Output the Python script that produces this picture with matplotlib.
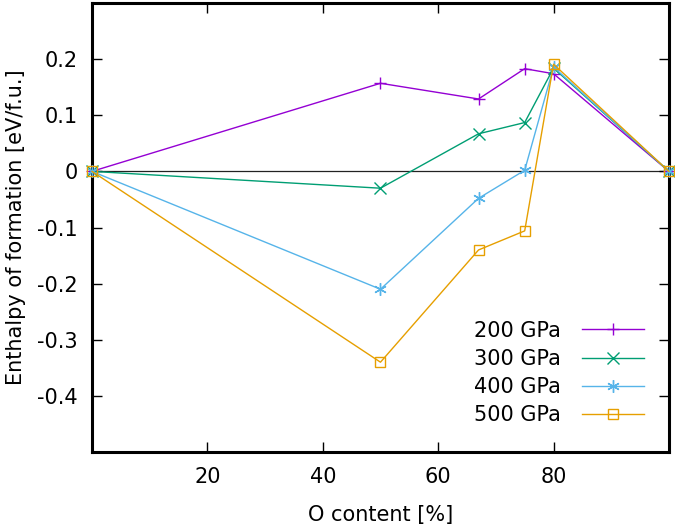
"""Enthalpy of formation vs O content, gnuplot-like style."""

import matplotlib
matplotlib.use("Agg")
import matplotlib.pyplot as plt

o_content = [0, 50, 67, 75, 80, 100]

h_200 = [0.0, 0.157, 0.129, 0.183, 0.174, 0.0]
h_300 = [0.0, -0.030, 0.067, 0.087, 0.184, 0.0]
h_400 = [0.0, -0.210, -0.048, 0.002, 0.186, 0.0]
h_500 = [0.0, -0.340, -0.140, -0.106, 0.191, 0.0]

labels = ["200 GPa", "300 GPa", "400 GPa", "500 GPa"]
xticks = [20, 40, 60, 80]
yticks = [-0.4, -0.3, -0.2, -0.1, 0, 0.1, 0.2]
ytick_labels = ["-0.4", "-0.3", "-0.2", "-0.1", "0", "0.1", "0.2"]

plt.rcParams["font.family"] = ["DejaVu Sans"]
FS = 15

fig = plt.figure(figsize=(6.75, 5.3), dpi=100)
ax = fig.add_axes([0.1363, 0.1472, 0.991 - 0.1363, 0.9943 - 0.1472])

# zero line
ax.axhline(0, color="#222222", linewidth=0.9, zorder=1)

styles = [
    ("#9400D3", "+", 9),
    ("#009E73", "x", 9),
    ("#56B4E9", (6, 2, 0), 9),
    ("#E69F00", "s", 7),
]
for values, label, (color, marker, size) in zip([h_200, h_300, h_400, h_500], labels, styles):
    ax.plot(o_content, values, color=color, linewidth=1.0, marker=marker,
            markersize=size, markerfacecolor="none",
            markeredgecolor=color, markeredgewidth=1.0, label=label,
            clip_on=False, zorder=3)

ax.set_xlim(0, 100)
ax.set_ylim(-0.5, 0.3)
ax.set_xticks(xticks)
ax.set_yticks(yticks)
ax.set_yticklabels(ytick_labels)
ax.tick_params(direction="in", length=7, width=1.0, top=True, right=True,
               labelsize=FS)
ax.tick_params(axis="x", pad=11)
ax.tick_params(axis="y", pad=10)

for spine in ax.spines.values():
    spine.set_linewidth(2.2)

ax.set_xlabel("O content [%]", fontsize=FS, labelpad=13)
ax.set_ylabel("Enthalpy of formation [eV/f.u.]", fontsize=FS, labelpad=8)

leg = ax.legend(loc="lower right", bbox_to_anchor=(0.957, 0.06), frameon=False,
                fontsize=FS, markerfirst=False, handlelength=3.0,
                handletextpad=1.0, labelspacing=0.39, borderaxespad=0,
                borderpad=0)
for text in leg.get_texts():
    text.set_ha("right")

fig.savefig("out.png", dpi=100)
